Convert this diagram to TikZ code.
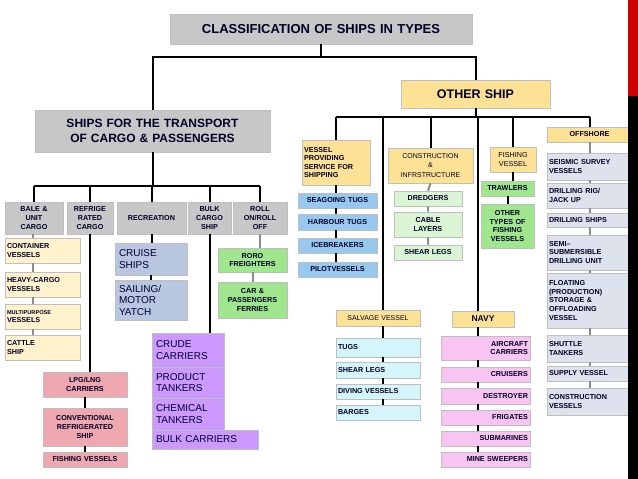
\documentclass[tikz,border=0pt]{standalone}
\usepackage{fontspec}
\setmainfont{Liberation Sans}
\begin{document}
\begin{tikzpicture}[x=1pt,y=-1pt,
  b/.style={draw=black!25,line width=0.8pt,inner xsep=2pt,inner ysep=0pt,text=black!85!blue,font=\bfseries\fontsize{7.2}{8.6}\selectfont,align=center},
  bl/.style={b,align=left},
  br/.style={b,align=right},
  big/.style={draw=black!25,line width=0.8pt,inner xsep=4pt,inner ysep=0pt,text=black!80!blue,font=\fontsize{10}{11.5}\selectfont,align=left},
  main/.style={line width=2pt,black},
  gl/.style={line width=2pt,black!45},
  gray/.style={fill=black!22},
  yel/.style={fill={rgb,255:red,253;green,226;blue,150}},
  lyel/.style={fill={rgb,255:red,255;green,242;blue,204}},
  pink/.style={fill={rgb,255:red,240;green,168;blue,176}},
  slate/.style={fill={rgb,255:red,184;green,198;blue,224}},
  purp/.style={fill={rgb,255:red,204;green,153;blue,255}},
  grn/.style={fill={rgb,255:red,160;green,230;blue,140}},
  lgrn/.style={fill={rgb,255:red,218;green,245;blue,212}},
  blu/.style={fill={rgb,255:red,150;green,200;blue,240}},
  cya/.style={fill={rgb,255:red,212;green,246;blue,250}},
  mag/.style={fill={rgb,255:red,248;green,196;blue,242}},
  ofs/.style={fill={rgb,255:red,222;green,226;blue,236}}]
\newcommand\bx[7]{\pgfmathsetmacro\bw{#4-#2}\pgfmathsetmacro\bh{#5-#3}\pgfmathsetmacro\tw{#4-#2-4}%
  \node[#6,minimum width=\bw pt,minimum height=\bh pt,text width=\tw pt] (#1) at ({(#2+#4)/2},{(#3+#5)/2}) {#7};}
\useasboundingbox (0,0) rectangle (638,479);
\fill[white] (0,0) rectangle (638,479);
\coordinate (busA) at (0,186);
\coordinate (busB) at (0,117);
% boxes
\bx{title}{170}{14}{472}{44}{b,gray,font=\bfseries\fontsize{13}{14}\selectfont}{CLASSIFICATION OF SHIPS IN TYPES}
\bx{cargo}{35}{110}{270}{152}{b,gray,font=\bfseries\fontsize{12}{14.5}\selectfont}{SHIPS FOR THE TRANSPORT\\OF CARGO \& PASSENGERS}
\bx{other}{401}{80}{550}{108}{b,yel,font=\bfseries\fontsize{12.5}{14}\selectfont}{OTHER SHIP}
\bx{bale}{5}{202}{63}{234}{b,gray}{BALE \&\\UNIT\\CARGO}
\bx{refr}{67}{202}{113}{234}{b,gray}{REFRIGE\\RATED\\CARGO}
\bx{recr}{117}{202}{186}{234}{b,gray}{RECREATION}
\bx{bulk}{188}{202}{231}{234}{b,gray}{BULK\\CARGO\\SHIP}
\bx{roll}{233}{202}{287}{234}{b,gray}{ROLL\\ON/ROLL\\OFF}
\bx{cont}{5}{238}{80}{263}{bl,lyel}{CONTAINER\\VESSELS}
\bx{heavy}{5}{272}{80}{297}{bl,lyel}{HEAVY-CARGO\\VESSELS}
\bx{multi}{5}{304}{80}{329}{bl,lyel}{{\fontsize{5.6}{8.6}\selectfont MULTIPURPOSE}\\VESSELS}
\bx{cattle}{5}{335}{80}{360}{bl,lyel}{CATTLE\\SHIP}
\bx{lpg}{43}{372}{127}{397}{b,pink}{LPG/LNG\\CARRIERS}
\bx{conv}{43}{408}{127}{446}{b,pink}{CONVENTIONAL\\REFRIGERATED\\SHIP}
\bx{fish}{43}{452}{127}{467}{b,pink}{FISHING VESSELS}
\bx{cruise}{117}{243}{185}{275}{big,slate}{CRUISE\\SHIPS}
\bx{sail}{117}{280}{185}{320}{big,slate}{SAILING/\\MOTOR\\YATCH}
\bx{crude}{154}{333}{222}{367}{big,purp}{CRUDE\\CARRIERS}
\bx{prod}{154}{367}{222}{398}{big,purp}{PRODUCT\\TANKERS}
\bx{chem}{154}{398}{222}{430}{big,purp}{CHEMICAL\\TANKERS}
\bx{bulkc}{154}{430}{256}{449}{big,purp}{BULK CARRIERS}
\bx{roro}{218}{248}{287}{272}{b,grn}{RORO\\FREIGHTERS}
\bx{car}{218}{282}{287}{318}{b,grn}{CAR \&\\PASSENGERS\\FERRIES}
% other ship side
\bx{vps}{302}{140}{370}{185}{bl,yel}{VESSEL\\PROVIDING\\SERVICE FOR\\SHIPPING}
\bx{seag}{298}{193}{377}{208}{b,blu}{SEAGOING TUGS}
\bx{harb}{298}{214}{377}{230}{b,blu}{HARBOUR TUGS}
\bx{ice}{298}{238}{377}{253}{b,blu}{ICEBREAKERS}
\bx{pilot}{298}{262}{377}{277}{b,blu}{PILOTVESSELS}
\bx{constr}{388}{148}{473}{183}{b,yel,font=\fontsize{7}{9.5}\selectfont}{CONSTRUCTION\\\&\\INFRSTRUCTURE}
\bx{dred}{394}{191}{462}{206}{b,lgrn}{DREDGERS}
\bx{cable}{394}{212}{462}{237}{b,lgrn}{CABLE\\LAYERS}
\bx{shear}{394}{245}{462}{260}{b,lgrn}{SHEAR LEGS}
\bx{fishv}{490}{147}{536}{172}{b,yel,font=\fontsize{7.2}{9.5}\selectfont}{FISHING\\VESSEL}
\bx{trawl}{481}{181}{534}{196}{b,grn}{TRAWLERS}
\bx{otypes}{481}{204}{534}{248}{b,grn}{OTHER\\TYPES OF\\FISHING\\VESSELS}
\bx{offs}{547}{127}{632}{142}{b,yel}{OFFSHORE}
\bx{seis}{547}{153}{632}{180}{bl,ofs}{SEISMIC SURVEY\\VESSELS}
\bx{rig}{547}{183}{632}{208}{bl,ofs}{DRILLING RIG/\\JACK UP}
\bx{dship}{547}{213}{632}{227}{bl,ofs}{DRILLING SHIPS}
\bx{semi}{547}{235}{632}{270}{bl,ofs}{SEMI--\\SUBMERSIBLE\\DRILLING UNIT}
\bx{float}{547}{273}{632}{328}{bl,ofs}{FLOATING\\(PRODUCTION)\\STORAGE \&\\OFFLOADING\\VESSEL}
\bx{shut}{547}{335}{632}{362}{bl,ofs}{SHUTTLE\\TANKERS}
\bx{supp}{547}{366}{632}{381}{bl,ofs}{SUPPLY VESSEL}
\bx{cves}{547}{388}{632}{415}{bl,ofs}{CONSTRUCTION\\VESSELS}
\bx{salv}{336}{310}{420}{326}{b,yel,font=\fontsize{7}{8}\selectfont}{SALVAGE VESSEL}
\bx{tugs}{336}{338}{420}{357}{bl,cya}{TUGS}
\bx{shl}{336}{362}{420}{378}{bl,cya}{SHEAR LEGS}
\bx{div}{336}{384}{420}{399}{bl,cya}{DIVING VESSELS}
\bx{barg}{336}{405}{420}{420}{bl,cya}{BARGES}
\bx{navy}{452}{311}{514}{327}{b,yel,font=\bfseries\fontsize{8.5}{9}\selectfont}{NAVY}
\bx{airc}{441}{336}{530}{360}{br,mag}{AIRCRAFT\\CARRIERS}
\bx{crui}{441}{367}{530}{382}{br,mag}{CRUISERS}
\bx{dest}{441}{388}{530}{404}{br,mag}{DESTROYER}
\bx{frig}{441}{410}{530}{425}{br,mag}{FRIGATES}
\bx{subm}{441}{431}{530}{446}{br,mag}{SUBMARINES}
\bx{mine}{441}{452}{530}{467}{br,mag}{MINE SWEEPERS}
% main connectors
\draw[main] (title.south) -- (title.south|-0,57);
\draw[main] (cargo.north) -- ++(0,-53) -| (other.north);
\draw[main] (cargo.south) -- (cargo.south|-busA);
\draw[main] (bale.north|-busA) -- (roll.north|-busA);
\foreach \n in {bale,refr,recr,bulk,roll} \draw[main] (\n.north) -- (\n.north|-busA);
\draw[main] (refr.south) -- (refr.south|-lpg.north);
\draw[main] (bulk.south) -- (bulk.south|-crude.north);
\draw[main] (other.south) -- (other.south|-busB);
\draw[main] (vps.north|-busB) -- (offs.north|-busB);
\foreach \n in {vps,constr,fishv,offs} \draw[main] (\n.north) -- (\n.north|-busB);
\draw[main] (383,117) -- (383,310);
\draw[main] (478,117) -- (478,311);
% chain connectors
\draw[gl] (33,234) -- (33,238) (33,263) -- (33,272) (33,297) -- (33,304) (33,329) -- (33,335);
\draw[main] (lpg.south) -- (conv.north) (conv.south) -- (fish.north);
\draw[main] (recr.south) -- (recr.south|-cruise.north);
\draw[main] (cruise.south) -- (sail.north);
\draw[gl] (roll.south) -- (roll.south|-roro.north) (roro.south) -- (car.north);
\draw[main] (vps.south) -- (vps.south|-seag.north);
\draw[main] (336,208) -- (336,214) (336,230) -- (336,238) (336,253) -- (336,262);
\draw[gl] (constr.south) -- (dred.north) (dred.south) -- (cable.north) (cable.south) -- (shear.north);
\draw[main] (fishv.south) -- (fishv.south|-trawl.north);
\draw[main] (507.5,196) -- (507.5,204);
\draw[gl] (offs.south) -- (seis.north) (seis.south) -- (rig.north) (rig.south) -- (dship.north) (dship.south) -- (semi.north) (semi.south) -- (float.north) (float.south) -- (shut.north) (shut.south) -- (supp.north) (supp.south) -- (cves.north);
\draw[main] (383,326) -- (383,338);
\draw[main,line width=1.5pt] (383,357) -- (383,362) (383,378) -- (383,384) (383,399) -- (383,405);
\draw[main] (478,327) -- (478,336);
\draw[main,line width=1.5pt] (478,360) -- (478,367) (478,382) -- (478,388) (478,404) -- (478,410) (478,425) -- (478,431) (478,446) -- (478,452);
% right bars
\fill[red!80!black] (628,0) rectangle (638,96);
\fill[black] (628,96) rectangle (638,479);
\end{tikzpicture}
\end{document}
